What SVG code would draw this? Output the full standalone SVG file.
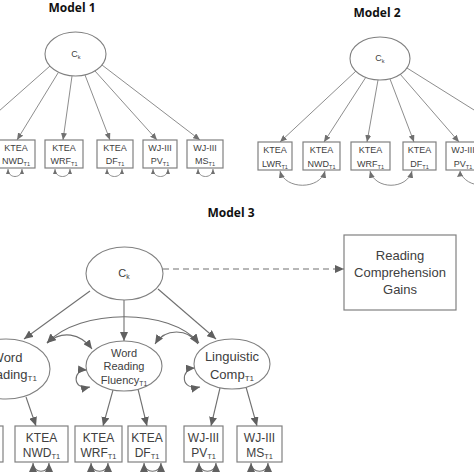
<svg xmlns="http://www.w3.org/2000/svg" width="474" height="474" viewBox="0 0 474 474">
<style>
.title{font-family:"Open Sans","Liberation Sans",sans-serif;font-weight:bold;font-size:12px;fill:#111;text-anchor:middle}
.t{font-family:"Liberation Sans",Arial,sans-serif;fill:#404040;text-anchor:middle}
.s1{font-size:9px}
.s3{font-size:12px}
.sub{font-size:0.62em}
.box{fill:#fff;stroke:#808080;stroke-width:1.2}
.ell{fill:#fff;stroke:#808080;stroke-width:1.1}
.a1{fill:none;stroke:#808080;stroke-width:0.9;marker-end:url(#h1)}
.d1{fill:none;stroke:#808080;stroke-width:0.9;marker-start:url(#h1);marker-end:url(#h1)}
.l1{fill:none;stroke:#808080;stroke-width:0.9;marker-start:url(#h0);marker-end:url(#h0)}
.a3{fill:none;stroke:#707070;stroke-width:1.1;marker-end:url(#h3)}
.d3{fill:none;stroke:#707070;stroke-width:1.1;marker-start:url(#h3);marker-end:url(#h3)}
.ln{fill:none;stroke:#808080;stroke-width:0.9}
</style>
<defs>
<marker id="h0" markerUnits="userSpaceOnUse" markerWidth="5" markerHeight="4" refX="5" refY="2" orient="auto-start-reverse"><path d="M0,0 L5,2 L0,4 Z" fill="#707070"/></marker>
<marker id="h1" markerUnits="userSpaceOnUse" markerWidth="7" markerHeight="6" refX="7" refY="3" orient="auto-start-reverse"><path d="M0,0 L7,3 L0,6 Z" fill="#707070"/></marker>
<marker id="h3" markerUnits="userSpaceOnUse" markerWidth="9" markerHeight="8" refX="9" refY="4" orient="auto-start-reverse"><path d="M0,0 L9,4 L0,8 Z" fill="#606060"/></marker>
</defs>

<text class="title" x="72" y="12">Model 1</text>
<text class="title" x="377" y="17">Model 2</text>
<text class="title" x="231" y="217">Model 3</text>

<g id="connectors">
<!-- Model 1 -->
<path class="ln" d="M50 66 L-10 119"/>
<path class="a1" d="M58 73 L17 140"/>
<path class="a1" d="M72 76 L63 140"/>
<path class="a1" d="M85 75 L110 140"/>
<path class="a1" d="M95 71 L157 140"/>
<path class="a1" d="M102 65 L200 140"/>
<path class="l1" d="M8 169 C8 179 22 179 22 169"/>
<path class="l1" d="M55 169 C55 179 70 179 70 169"/>
<path class="l1" d="M107 169 C107 179 122 179 122 169"/>
<path class="l1" d="M153 169 C153 179 168 179 168 169"/>
<path class="l1" d="M198 169 C198 179 213 179 213 169"/>
<!-- Model 2 -->
<path class="ln" d="M407 68 L490 120"/>
<path class="a1" d="M356 71 L280 142"/>
<path class="a1" d="M366 77 L324 142"/>
<path class="a1" d="M378 80 L367 142"/>
<path class="a1" d="M390 79 L414 142"/>
<path class="a1" d="M400 74 L459 142"/>
<path class="d1" d="M280 171 C285 190 320 190 325 171"/>
<path class="d1" d="M370 171 C375 190 407 190 412 171"/>
<path class="ln" d="M460 171 C465 190 500 190 505 171"/>
<path fill="#707070" d="M460 171 L457 177 L463 176 Z"/>
<!-- Model 3 -->
<path class="a3" d="M163 269 L344 269" stroke-dasharray="6 4"/>
<path class="a3" d="M90 291 L24 339"/>
<path class="a3" d="M124 300 L124 341"/>
<path class="a3" d="M158 289 L216 339"/>
<path class="d3" d="M47 343 C80 308 170 308 199 343"/>
<path class="d3" d="M47 343 C62 330 80 333 92 349"/>
<path class="d3" d="M155 344 C165 328 188 328 198 344"/>
<path class="d3" d="M87 370 C72 369 72 391 90 387"/>
<path class="d3" d="M195 368 C180 369 180 391 200 387"/>
<path class="a3" d="M26 397 L36 426"/>
<path class="a3" d="M113 390 L103 426"/>
<path class="a3" d="M138 389 L147 426"/>
<path class="a3" d="M220 388 L211 426"/>
<path class="a3" d="M246 387 L257 426"/>
<path class="d3" d="M33 463 C33 474 49 474 49 463"/>
<path class="d3" d="M91 463 C91 474 108 474 108 463"/>
<path class="d3" d="M144 463 C144 474 161 474 161 463"/>
<path class="d3" d="M199 463 C199 474 216 474 216 463"/>
<path class="d3" d="M251 463 C251 474 268 474 268 463"/>
</g>

<!-- Model 1 nodes -->
<g id="m1-ck"><ellipse class="ell" cx="75.5" cy="54" rx="30.5" ry="22"/><text class="t s1" x="76" y="57">C<tspan class="sub" dy="1.5">k</tspan></text></g>
<g id="m1-nwd"><rect class="box" x="-3" y="140" width="38" height="28"/><text class="t s1" x="16" y="151">KTEA</text><text class="t s1" x="16" y="164">NWD<tspan class="sub" dy="1.5">T1</tspan></text></g>
<g id="m1-wrf"><rect class="box" x="45" y="140" width="38" height="28"/><text class="t s1" x="64" y="151">KTEA</text><text class="t s1" x="64" y="164">WRF<tspan class="sub" dy="1.5">T1</tspan></text></g>
<g id="m1-df"><rect class="box" x="97" y="140" width="36" height="28"/><text class="t s1" x="115" y="151">KTEA</text><text class="t s1" x="115" y="164">DF<tspan class="sub" dy="1.5">T1</tspan></text></g>
<g id="m1-pv"><rect class="box" x="143" y="140" width="34" height="28"/><text class="t s1" x="160" y="151">WJ-III</text><text class="t s1" x="160" y="164">PV<tspan class="sub" dy="1.5">T1</tspan></text></g>
<g id="m1-ms"><rect class="box" x="187" y="140" width="36" height="28"/><text class="t s1" x="205" y="151">WJ-III</text><text class="t s1" x="205" y="164">MS<tspan class="sub" dy="1.5">T1</tspan></text></g>

<!-- Model 2 nodes -->
<g id="m2-ck"><ellipse class="ell" cx="380" cy="58.5" rx="30" ry="21.5"/><text class="t s1" x="380" y="61">C<tspan class="sub" dy="1.5">k</tspan></text></g>
<g id="m2-lwr"><rect class="box" x="258" y="142" width="34" height="28"/><text class="t s1" x="275" y="153">KTEA</text><text class="t s1" x="275" y="167">LWR<tspan class="sub" dy="1.5">T1</tspan></text></g>
<g id="m2-nwd"><rect class="box" x="303" y="142" width="37" height="28"/><text class="t s1" x="321.5" y="153">KTEA</text><text class="t s1" x="321.5" y="167">NWD<tspan class="sub" dy="1.5">T1</tspan></text></g>
<g id="m2-wrf"><rect class="box" x="351" y="142" width="39" height="28"/><text class="t s1" x="370.5" y="153">KTEA</text><text class="t s1" x="370.5" y="167">WRF<tspan class="sub" dy="1.5">T1</tspan></text></g>
<g id="m2-df"><rect class="box" x="403" y="142" width="33" height="28"/><text class="t s1" x="419.5" y="153">KTEA</text><text class="t s1" x="419.5" y="167">DF<tspan class="sub" dy="1.5">T1</tspan></text></g>
<g id="m2-pv"><rect class="box" x="446" y="142" width="36" height="28"/><text class="t s1" x="463" y="153">WJ-III</text><text class="t s1" x="463" y="167">PV<tspan class="sub" dy="1.5">T1</tspan></text></g>

<!-- Model 3 nodes -->
<g id="m3-ck"><ellipse class="ell" cx="124.5" cy="273.5" rx="38.5" ry="26.5"/><text class="t" font-size="11" x="124" y="277">C<tspan class="sub" dy="2">k</tspan></text></g>
<g id="m3-rcg"><rect class="box" x="344" y="235" width="112" height="75"/><text class="t" font-size="13" x="400" y="260">Reading</text><text class="t" font-size="13" x="400" y="277">Comprehension</text><text class="t" font-size="13" x="400" y="294">Gains</text></g>
<g id="m3-wr"><ellipse class="ell" cx="6" cy="369" rx="44" ry="30"/><text class="t" font-size="13" x="7" y="362">Word</text><text class="t" font-size="13" x="8" y="379">Reading<tspan class="sub" dy="2">T1</tspan></text></g>
<g id="m3-wrf"><ellipse class="ell" cx="124" cy="366" rx="38" ry="25"/><text class="t" font-size="11" x="124" y="357">Word</text><text class="t" font-size="11" x="124" y="370">Reading</text><text class="t" font-size="11" x="124" y="384">Fluency<tspan class="sub" dy="2">T1</tspan></text></g>
<g id="m3-lc"><ellipse class="ell" cx="232" cy="364" rx="38" ry="25"/><text class="t" font-size="13" x="232" y="361">Linguistic</text><text class="t" font-size="13" x="232" y="379">Comp<tspan class="sub" dy="2">T1</tspan></text></g>
<g id="m3-lwr"><rect class="box" x="-40" y="426" width="43" height="36"/></g>
<g id="m3-nwd"><rect class="box" x="15" y="426" width="53" height="36"/><text class="t s3" x="41.5" y="442">KTEA</text><text class="t s3" x="41.5" y="457">NWD<tspan class="sub" dy="2">T1</tspan></text></g>
<g id="m3-wrf2"><rect class="box" x="75" y="426" width="47" height="36"/><text class="t s3" x="98.5" y="442">KTEA</text><text class="t s3" x="98.5" y="457">WRF<tspan class="sub" dy="2">T1</tspan></text></g>
<g id="m3-df"><rect class="box" x="128" y="426" width="38" height="36"/><text class="t s3" x="147" y="442">KTEA</text><text class="t s3" x="147" y="457">DF<tspan class="sub" dy="2">T1</tspan></text></g>
<g id="m3-pv"><rect class="box" x="184" y="426" width="39" height="36"/><text class="t s3" x="203.5" y="442">WJ-III</text><text class="t s3" x="203.5" y="457">PV<tspan class="sub" dy="2">T1</tspan></text></g>
<g id="m3-ms"><rect class="box" x="237" y="426" width="45" height="36"/><text class="t s3" x="259.5" y="442">WJ-III</text><text class="t s3" x="259.5" y="457">MS<tspan class="sub" dy="2">T1</tspan></text></g>
</svg>
